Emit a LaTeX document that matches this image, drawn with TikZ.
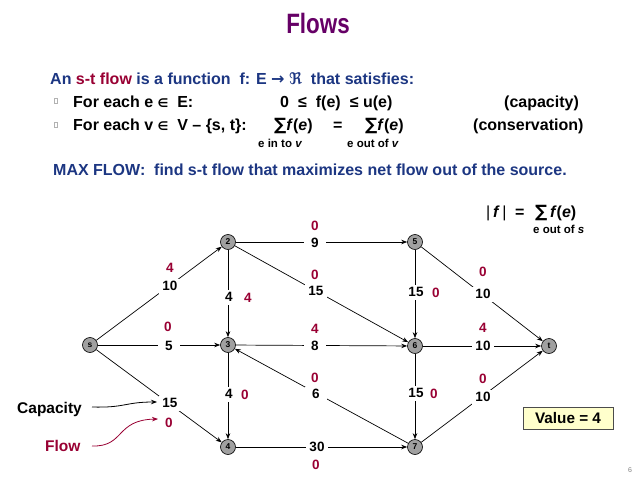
\documentclass[tikz,border=0pt]{standalone}
\usepackage{fontspec}
\usepackage{graphicx}
\setmainfont{Liberation Sans}
\newfontfamily\symf{DejaVu Sans}
\usetikzlibrary{arrows.meta}
\definecolor{ttlc}{RGB}{102,0,102}
\definecolor{navyc}{RGB}{28,54,130}
\definecolor{crimc}{RGB}{153,0,51}
\definecolor{vfill}{RGB}{160,160,160}
\definecolor{boxc}{RGB}{255,255,204}
\newcommand{\elemof}{{\symf\bfseries\fontsize{12}{12}\selectfont ∈}}
\begin{document}
\begin{tikzpicture}[x=1pt,y=-1pt,
 vert/.style={circle,draw=black,line width=0.6pt,fill=vfill,minimum size=15pt,inner sep=0pt,font=\bfseries\fontsize{8.5}{9}\selectfont},
 capl/.style={fill=white,inner sep=0pt,minimum width=22pt,minimum height=15pt,font=\bfseries\fontsize{13.5}{14}\selectfont},
 flowl/.style={text=crimc,inner sep=0pt,font=\bfseries\fontsize{13.5}{14}\selectfont},
 edgea/.style={draw=black,line width=0.7pt,-{Stealth[length=6pt,width=4.5pt]}},
 txt/.style={anchor=base west,inner sep=0pt,font=\bfseries\fontsize{16}{19}\selectfont},
 subt/.style={anchor=base west,inner sep=0pt,font=\bfseries\fontsize{11.5}{13}\selectfont},
 bul/.style={draw=gray!60,line width=0.4pt,minimum width=3pt,minimum height=5pt,inner sep=0pt}
]
\useasboundingbox (0,0) rectangle (638,479);
\fill[white] (0,0) rectangle (638,479);

% title
\node[anchor=base,inner sep=0pt,text=ttlc,font=\bfseries\fontsize{28}{30}\selectfont] (title) at (318,33) {\scalebox{0.8}[1]{Flows}};

% text lines
\node[txt,text=navyc] (l1) at (50,84) {An \textcolor{crimc}{s-t flow} is a function \ f: E {\symf\bfseries →} {\symf\bfseries ℜ} \ that satisfies:};
\node[bul] (bu1) at (56,101) {};
\node[bul] (bu2) at (56,125) {};
\node[txt] (l2a) at (73,107) {For each e \elemof\ \ E:};
\node[txt] (l2b) at (280,107) {0\hspace{9pt}≤\hspace{9pt}f(e)\hspace{9pt}≤\hspace{4.5pt}u(e)};
\node[txt] (l2c) at (504,107) {(capacity)};
\node[txt] (l3a) at (73,130) {For each v \elemof\ \ V – \{s, t\}:};
\node[txt] (l3b) at (274,130) {{\symf\fontsize{17}{17}\selectfont ∑}\textit{f}(\textit{e})};
\node[txt] (l3c) at (333,130) {=};
\node[txt] (l3d) at (365,130) {{\symf\fontsize{17}{17}\selectfont ∑}\textit{f}(\textit{e})};
\node[txt] (l3e) at (473,130) {(conservation)};
\node[subt] (s1) at (258,147) {e in to \textit{v}};
\node[subt] (s2) at (347,147) {e out of \textit{v}};
\node[txt,text=navyc] (l4) at (53,175) {MAX FLOW: \ find s-t flow that maximizes net flow out of the source.};

% |f| formula
\node[txt] (vf1) at (486,217) {{\mdseries|}\,\textit{f}\,{\mdseries|}};
\node[txt] (vf2) at (515,217) {=};
\node[txt] (vf3) at (535,217) {{\symf\fontsize{17}{17}\selectfont ∑}\,\textit{f}(\textit{e})};
\node[subt] (vf4) at (533,233) {e out of \textit{s}};

% vertices
\node[vert] (s) at (90,345) {s};
\node[vert] (n2) at (228,242) {2};
\node[vert] (n3) at (228,345) {3};
\node[vert] (n4) at (228,447) {4};
\node[vert] (n5) at (415,242) {5};
\node[vert] (n6) at (415,346) {6};
\node[vert] (n7) at (415,447) {7};
\node[vert] (t) at (549,346) {t};

% edges
\draw[edgea] (s) -- (n2);
\draw[edgea] (s) -- (n3);
\draw[edgea] (s) -- (n4);
\draw[edgea] (n2) -- (n5);
\draw[edgea] (n2) -- (n6);
\draw[edgea] (n2) -- (n3);
\draw[edgea] (n3) -- (n6);
\draw[edgea] (n3) -- (n4);
\draw[edgea] (n7) -- (n3);
\draw[edgea] (n4) -- (n7);
\draw[edgea] (n5) -- (n6);
\draw[edgea] (n6) -- (n7);
\draw[edgea] (n5) -- (t);
\draw[edgea] (n6) -- (t);
\draw[edgea] (n7) -- (t);

% capacity labels
\node[capl] (c1) at (170,286) {10};
\node[capl] (c2) at (169,346) {5};
\node[capl] (c3) at (170,403) {15};
\node[capl] (c4) at (315,243) {9};
\node[capl] (c5) at (316,291) {15};
\node[capl] (c6) at (315,346) {8};
\node[capl] (c7) at (316,394) {6};
\node[capl] (c8) at (317,447) {30};
\node[capl,minimum width=14pt] (c9) at (229,297) {4};
\node[capl,minimum width=14pt] (c10) at (229,394) {4};
\node[capl,minimum width=18pt] (c11) at (416,292) {15};
\node[capl,minimum width=18pt] (c12) at (416,393) {15};
\node[capl] (c13) at (483,294) {10};
\node[capl] (c14) at (483,346) {10};
\node[capl] (c15) at (483,397) {10};

% flow labels
\node[flowl] (f1) at (170,268) {4};
\node[flowl] (f2) at (168,327) {0};
\node[flowl] (f3) at (169,423) {0};
\node[flowl] (f4) at (315,226) {0};
\node[flowl] (f5) at (315,275) {0};
\node[flowl] (f6) at (315,329) {4};
\node[flowl] (f7) at (315,378) {0};
\node[flowl] (f8) at (316,465) {0};
\node[flowl] (f9) at (248,298) {4};
\node[flowl] (f10) at (245,395) {0};
\node[flowl] (f11) at (436,293) {0};
\node[flowl] (f12) at (434,394) {0};
\node[flowl] (f13) at (483,272) {0};
\node[flowl] (f14) at (483,328) {4};
\node[flowl] (f15) at (483,379) {0};

% legend
\node[anchor=base west,inner sep=0pt,font=\bfseries\fontsize{15.5}{17}\selectfont] (capn) at (17,413) {Capacity};
\node[anchor=base west,inner sep=0pt,text=crimc,font=\bfseries\fontsize{15.5}{17}\selectfont] (flown) at (45,451) {Flow};
\coordinate (ca) at (92,407);
\coordinate (fa) at (92,446);
\draw[line width=0.8pt,-{Stealth[length=6pt,width=4.5pt]}] (ca) .. controls (125,408) and (125,402) .. (157,402);
\draw[crimc,line width=0.8pt,-{Stealth[length=6pt,width=4.5pt]}] (fa) .. controls (125,447) and (115,420) .. (158,419);

% value box
\node[draw=black!70,line width=1pt,fill=boxc,minimum width=90pt,minimum height=22pt,inner sep=0pt,font=\bfseries\fontsize{15.3}{17}\selectfont] (val) at (568,418) {Value = 4};

% page number
\node[inner sep=0pt,text=gray,font=\fontsize{7}{8}\selectfont] (pg) at (630,470) {6};
\end{tikzpicture}
\end{document}
